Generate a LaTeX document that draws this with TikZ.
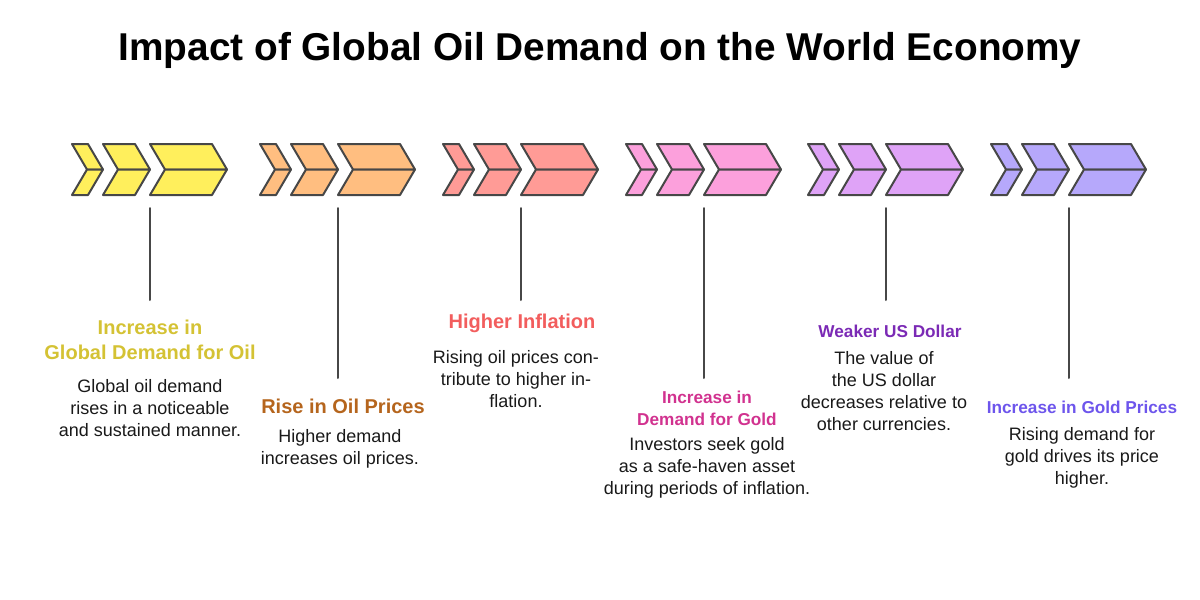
\documentclass[tikz,border=0pt]{standalone}
\usepackage{fontspec}
\setmainfont{Liberation Sans}
\definecolor{fillyel}{HTML}{FFEF5C}
\definecolor{fillorg}{HTML}{FFBE80}
\definecolor{fillred}{HTML}{FF9B96}
\definecolor{fillpnk}{HTML}{FCA0DC}
\definecolor{fillpur}{HTML}{DFA3F7}
\definecolor{fillvio}{HTML}{B6A8FB}
\definecolor{headyel}{HTML}{D4C234}
\definecolor{headorg}{HTML}{B5651D}
\definecolor{headred}{HTML}{F25D5D}
\definecolor{headpnk}{HTML}{D1328F}
\definecolor{headpur}{HTML}{7B2AB5}
\definecolor{headvio}{HTML}{6D55EC}
\definecolor{chevline}{HTML}{474747}
\begin{document}
\begin{tikzpicture}[x=0.5pt,y=-0.5pt,line join=round,line cap=round,
	chev/.style={draw=chevline,line width=1pt},
	stem/.style={draw=chevline,line width=1pt},
	head/.style={font=\fontsize{10}{12.5}\selectfont\bfseries,align=center},
	smallhead/.style={font=\fontsize{8.6}{11}\selectfont\bfseries,align=center},
	body/.style={font=\fontsize{9}{11}\selectfont,align=center,text=black!90}]
		\useasboundingbox (0,0) rectangle (1200,600);
		\node (title) at (600,50) {\fontsize{19.4}{23}\selectfont\bfseries Impact of Global Oil Demand on the World Economy};
		% chevron groups
		\foreach \x/\c [count=\i] in {72/fillyel,260/fillorg,443/fillred,626/fillpnk,808/fillpur,991/fillvio}{
			\foreach \a/\b/\t/\n in {0/16/31/15,31/63/78/46,78/140/155/93}{
				\filldraw[chev,fill=\c] ({\x+\a},144)--({\x+\b},144)--({\x+\t},169.5)--({\x+\n},169.5)--cycle;
				\filldraw[chev,fill=\c] ({\x+\n},169.5)--({\x+\t},169.5)--({\x+\b},195)--({\x+\a},195)--cycle;
			}
			\coordinate (top\i) at ({\x+78},208);
		}
		% labels
		\node[head,text=headyel] (h1) at (150,340) {Increase in\\Global Demand for Oil};
		\node[body] (b1) at (150,408) {Global oil demand\\rises in a noticeable\\and sustained manner.};
		\node[head,text=headorg] (h2) at (343,406) {Rise in Oil Prices};
		\node[body] (b2) at (340,449) {Higher demand\\increases oil prices.};
		\node[head,text=headred] (h3) at (522,323) {Higher Inflation};
		\node[body] (b3) at (516,379) {Rising oil prices con-\\tribute to higher in-\\flation.};
		\node[smallhead,text=headpnk] (h4) at (707,408) {Increase in\\Demand for Gold};
		\node[body] (b4) at (707,468) {Investors seek gold\\as a safe-haven asset\\during periods of inflation.};
		\node[smallhead,text=headpur] (h5) at (890,331) {Weaker US Dollar};
		\node[body] (b5) at (884,391) {The value of\\the US dollar\\decreases relative to\\other currencies.};
		\node[smallhead,text=headvio] (h6) at (1082,407) {Increase in Gold Prices};
		\node[body] (b6) at (1082,458) {Rising demand for\\gold drives its price\\higher.};
		% stems
		\coordinate (s1) at (150,300);
		\coordinate (s2) at (338,378);
		\coordinate (s3) at (521,300);
		\coordinate (s4) at (704,378);
		\coordinate (s5) at (886,300);
		\coordinate (s6) at (1069,378);
		\draw[stem] (top1)--(s1) (top2)--(s2) (top3)--(s3) (top4)--(s4) (top5)--(s5) (top6)--(s6);
\end{tikzpicture}
\end{document}
